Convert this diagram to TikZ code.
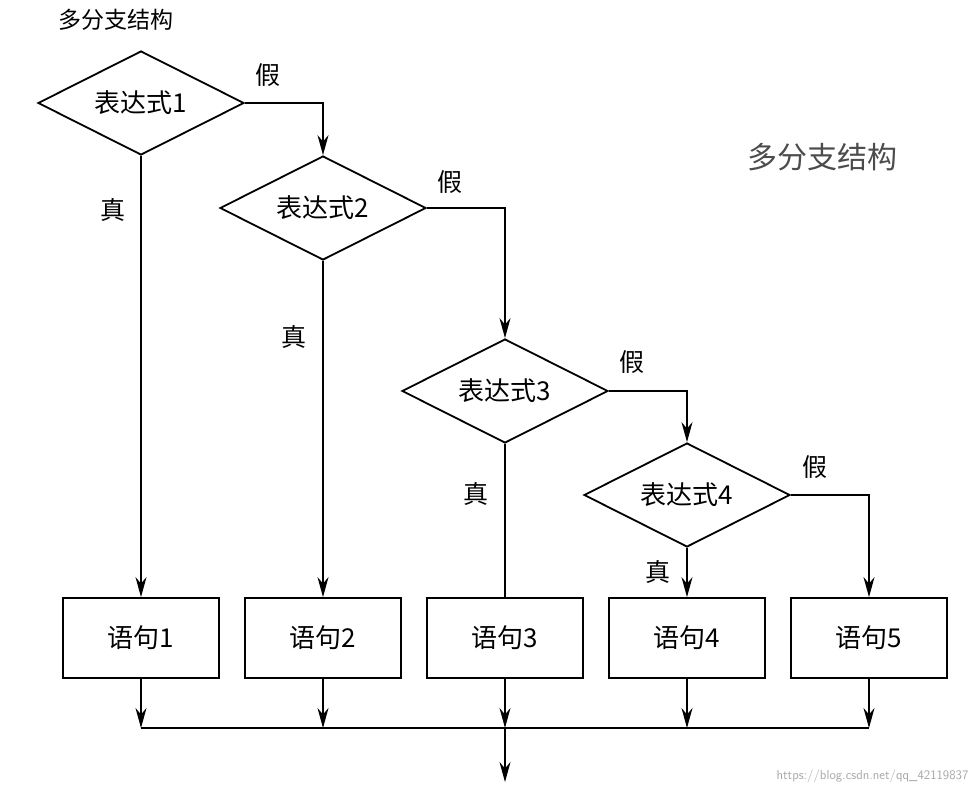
\documentclass[tikz,border=0pt]{standalone}
\usepackage{fontspec}
\setmainfont{Liberation Serif}
\newfontfamily\cjk{Noto Sans CJK SC}
\usetikzlibrary{shapes.geometric,arrows.meta}
\begin{document}
\begin{tikzpicture}[x=1pt,y=-1pt,
  dia/.style={draw,line width=1.8pt,diamond,aspect=2,minimum width=206pt,minimum height=104pt,inner sep=0pt,font=\cjk\fontsize{26}{28}\selectfont},
  box/.style={draw,line width=1.8pt,minimum width=156pt,minimum height=80pt,font=\cjk\fontsize{26}{28}\selectfont},
  lab/.style={font=\cjk\fontsize{25}{27}\selectfont},
  ln/.style={line width=1.3pt},
  ar/.style={ln,-{Stealth[length=20pt,width=11pt]}}]
\useasboundingbox (0,0) rectangle (978,795);
\node[font=\cjk\fontsize{23}{25}\selectfont,anchor=west] (title) at (55,20) {多分支结构};
\node[font=\cjk\fontsize{30}{32}\selectfont,text=black!70] (sub) at (822,157) {多分支结构};
\node[dia] (d1) at (141,103) {表达式1};
\node[dia] (d2) at (323,208) {表达式2};
\node[dia] (d3) at (505,391) {表达式3};
\node[dia] (d4) at (687,495) {表达式4};
\foreach \i/\x in {1/141,2/323,3/505,4/687,5/869}
  \node[box] (b\i) at (\x,638) {语句\i};
\draw[ar] (d1.south) -- (b1.north);
\draw[ar] (d2.south) -- (b2.north);
\draw[ln] (d3.south) -- (b3.north);
\draw[ar] (d4.south) -- (b4.north);
\draw[ar] (d1.east) -| (d2.north);
\draw[ar] (d2.east) -| (d3.north);
\draw[ar] (d3.east) -| (d4.north);
\draw[ar] (d4.east) -| (b5.north);
\coordinate (jl) at (141,728);
\coordinate (jr) at (869,728);
\coordinate (jm) at (505,728);
\coordinate (out) at (505,782);
\foreach \i in {1,...,5} \draw[ar] (b\i.south) -- (b\i.south |- jl);
\draw[ln] (jl) -- (jr);
\draw[ar] (jm) -- (out);
\node[lab] (t1) at (113,210) {真};
\node[lab] (t2) at (294,337) {真};
\node[lab] (t3) at (476,494) {真};
\node[lab] (t4) at (658,572) {真};
\node[lab] (f1) at (268,75) {假};
\node[lab] (f2) at (450,182) {假};
\node[lab] (f3) at (632,362) {假};
\node[lab] (f4) at (815,467) {假};
\node[font=\sffamily\fontsize{13}{14}\selectfont,text=black!35,anchor=east] (wm) at (972,776) {https://blog.csdn.net/qq\_42119837};
\end{tikzpicture}
\end{document}
